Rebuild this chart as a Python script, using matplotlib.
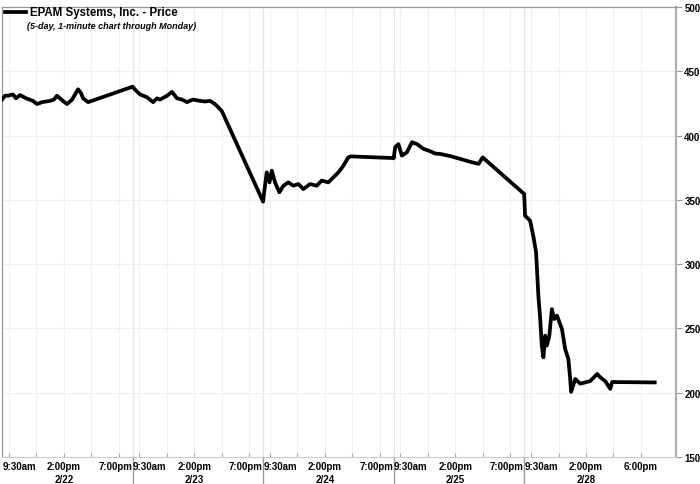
import matplotlib
matplotlib.use("Agg")
import matplotlib.pyplot as plt
import matplotlib.transforms as mtransforms

plt.rcParams['font.family'] = ['Liberation Sans', 'DejaVu Sans']

days = ["2/22", "2/23", "2/24", "2/25", "2/28"]
day_len = 570  # minutes kept per day: 9:30am .. 7:00pm

# minutes after the 9:30am open, and price, for each day
mins_0222 = [0, 13, 26, 48, 61, 79, 105, 135, 153, 175, 210, 227, 240, 266, 284, 306, 319, 332, 345, 354, 376]
price_0222 = [428, 431, 431, 432, 429, 431.5, 429, 427, 424.5, 426, 427, 428, 431, 427, 424.5, 428, 432, 436, 433, 429, 426]

mins_0223 = [0, 15, 33, 63, 76, 90, 107, 120, 151, 172, 194, 216, 238, 264, 295, 317, 338, 356, 369, 390]
price_0223 = [438, 435, 432, 429.8, 428, 426, 429, 428, 431, 434, 429, 428, 426, 428, 427, 426.5, 427, 425, 423, 419]

mins_0224 = [0, 4, 16, 28, 38, 52, 71, 89, 110, 132, 154, 176, 205, 234, 256, 285, 307, 329, 351, 372, 383, 570]
price_0224 = [348.6, 355, 371.4, 363.6, 372.7, 363.6, 355.9, 361, 363.6, 361, 362.3, 358.4, 362.3, 361, 365, 363.6, 367.5, 371.4, 376.6, 383, 383.8, 382.5]

mins_0225 = [0, 7, 21, 36, 58, 80, 102, 131, 153, 182, 204, 248, 292, 336, 371, 389]
price_0225 = [382.3, 391, 393.4, 384.4, 387, 394.8, 393.4, 389.6, 388.3, 386, 385.7, 384, 381.8, 379.5, 378, 383]

mins_0228 = [0, 4, 26, 41, 52, 62, 70, 77, 84, 92, 99, 110, 121, 131, 143, 154, 165, 179, 193, 201, 205,
             223, 245, 266, 288, 319, 332, 354, 376, 384, 570]
price_0228 = [354.6, 337.7, 333.8, 320.9, 309.2, 275.5, 257.3, 236.6, 227.5, 244.4, 236.6, 244.4, 265, 257.3, 260,
              254.8, 249.6, 234, 226.2, 210.7, 200.6, 210.7, 207, 208, 209, 214.6, 212, 209, 203, 208.3, 208]

all_mins = [mins_0222, mins_0223, mins_0224, mins_0225, mins_0228]
all_prices = [price_0222, price_0223, price_0224, price_0225, price_0228]

y_ticks = [150, 200, 250, 300, 350, 400, 450, 500]
grid_mins = [30, 150, 270, 390, 510]  # 10am, 12pm, 2pm, 4pm, 6pm

x, y = [], []
for d, (m, p) in enumerate(zip(all_mins, all_prices)):
    x += [d * day_len + v for v in m]
    y += p

fig = plt.figure(figsize=(7, 4.85), dpi=100)
ax = fig.add_axes([2 / 700, 27 / 485, 674 / 700, 450 / 485])

# vertical grid and day separators
for d in range(len(days)):
    for g in grid_mins:
        ax.axvline(d * day_len + g, color='#f1f1f1', lw=0.8, zorder=0)
    if d > 0:
        ax.axvline(d * day_len, color='#e4e4e4', lw=0.9, zorder=0)
for v in y_ticks[1:-1]:
    ax.axhline(v, color='#efefef', lw=0.8, zorder=0)

ax.plot(x, y, color='black', lw=2.7, solid_joinstyle='round', zorder=3)

ax.set_xlim(0, 4 * day_len + 663)
ax.set_ylim(150, 500)
ax.yaxis.tick_right()
ax.set_yticks(y_ticks)
ax.tick_params(axis='y', direction='out', length=4, width=0.8, color='#999999', pad=2,
               labelsize=7, labelcolor='black')
for lab in ax.get_yticklabels():
    lab.set_fontweight('bold')

minor = [d * day_len + g for d in range(len(days)) for g in grid_mins]
ax.set_xticks(minor)
ax.set_xticklabels([])
ax.tick_params(axis='x', direction='in', length=3, width=0.8, color='#aaaaaa')

for side, col, lw in [('left', '#999999', 0.9), ('right', '#b0b0b0', 1.6),
                      ('top', '#999999', 0.9), ('bottom', '#cccccc', 0.8)]:
    ax.spines[side].set_color(col)
    ax.spines[side].set_linewidth(lw)

# x labels under the axis
tr = mtransforms.blended_transform_factory(ax.transData, ax.transAxes)
lab_kw = dict(transform=tr, va='top', fontsize=7, fontweight='bold', clip_on=False)
for d, day in enumerate(days):
    base = d * day_len
    ax.text(base + 2, -0.009, "9:30am", ha='left', **lab_kw)
    ax.text(base + 270, -0.009, "2:00pm", ha='center', **lab_kw)
    ax.text(base + 270, -0.037, day, ha='center', **lab_kw)
    if d < len(days) - 1:
        ax.text(base + day_len - 2, -0.009, "7:00pm", ha='right', **lab_kw)
        ax.plot([base + day_len] * 2, [-0.062, 0], transform=tr, color='#999999',
                lw=1.0, clip_on=False)
    else:
        ax.text(base + 510, -0.009, "6:00pm", ha='center', **lab_kw)

# legend-like header
ax.plot([0.004, 0.036], [0.988, 0.988], transform=ax.transAxes, color='black', lw=2.7)
ax.text(0.042, 0.988, "EPAM Systems, Inc. - Price", transform=ax.transAxes,
        ha='left', va='center', fontsize=8.3, fontweight='bold')
ax.text(0.037, 0.958, "(5-day, 1-minute chart through Monday)", transform=ax.transAxes,
        ha='left', va='center', fontsize=6.5, fontweight='bold', fontstyle='italic')

fig.savefig("out.png", dpi=100)
